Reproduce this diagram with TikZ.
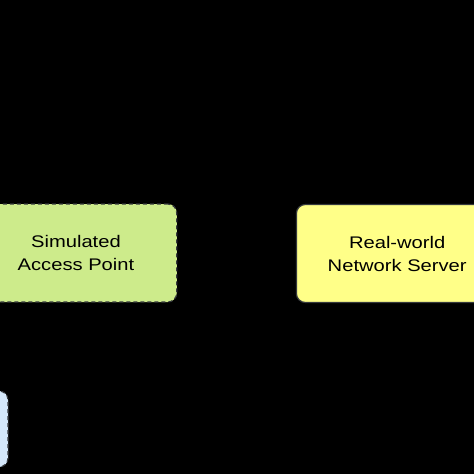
\documentclass[tikz,border=0pt]{standalone}
\usepackage{fontspec}
\setmainfont{Liberation Sans}
\definecolor{apgreen}{HTML}{CDEB8B}
\definecolor{nsyellow}{HTML}{FFFF88}
\definecolor{devblue}{HTML}{D4E7FA}
\definecolor{boxline}{HTML}{36393D}

\begin{document}
\begin{tikzpicture}[x=1pt,y=-1pt,
  box/.style={draw=boxline,line width=1.2pt,rounded corners=9pt,minimum width=168pt,minimum height=98pt,align=center,text=black,font=\fontsize{16.8}{23}\selectfont},
  dashbox/.style={box,dash pattern=on 4pt off 3pt}]
  %background
  \fill[black] (0,0) rectangle (474,474);
  \useasboundingbox (0,0) rectangle (474,474);

  \begin{scope}[xscale=1.2,transform shape]
    %simulated access point
    \node[dashbox,fill=apgreen] (sap) at (63.3,253) {Simulated\\Access Point};

    %network server
    \node[box,fill=nsyellow] (ns) at (331,253.5) {Real-world\\Network Server};

    %lower left box
    \node[dashbox,fill=devblue,minimum width=150pt,minimum height=76pt] (dev) at (-68.3,429) {};
  \end{scope}
\end{tikzpicture}
\end{document}
